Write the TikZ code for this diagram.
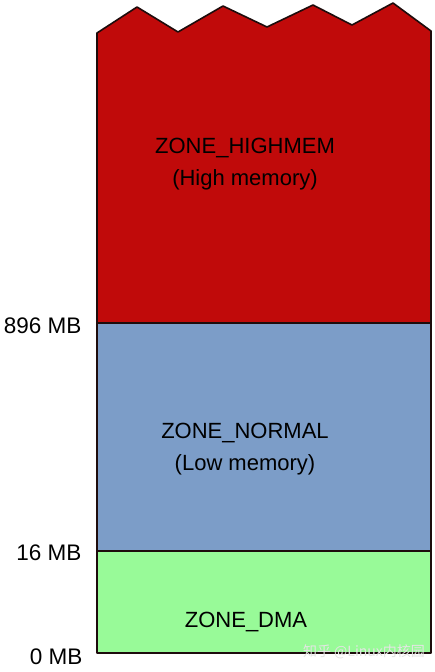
\documentclass[tikz,border=0pt]{standalone}
\usepackage{fontspec}
\setmainfont{Liberation Sans}
\newfontfamily\cjk{Noto Sans CJK SC}
\definecolor{highred}{RGB}{192,10,10}
\definecolor{normalblue}{RGB}{124,157,200}
\definecolor{dmagreen}{RGB}{152,250,152}
\definecolor{zoneline}{RGB}{30,12,12}

\begin{document}
\begin{tikzpicture}[x=1pt,y=-1pt,zone/.style = {draw=zoneline, line width=1.6pt, line join=round},
zonetext/.style = {align=center, font=\fontsize{22}{32}\selectfont},
mb/.style = {anchor=east, font=\fontsize{22.5}{26}\selectfont}]
\useasboundingbox[fill=white] (0,0) rectangle (434,672);
\draw[zone, fill=highred] (97,33) -- (137,7) -- (178,32) -- (223,6) -- (267,27) -- (313,5) -- (352,25) -- (393,3) -- (431,31) -- (431,323) -- (97,323) -- cycle;
\draw[zone, fill=normalblue] (97,323) rectangle (431,551);
\draw[zone, fill=dmagreen] (97,551) rectangle (431,653);
\node[zonetext] (highmem) at (245,164) {ZONE\_HIGHMEM\\(High memory)};
\node[zonetext] (normal) at (245,449) {ZONE\_NORMAL\\(Low memory)};
\node[zonetext] (dma) at (246,622) {ZONE\_DMA};
\node[mb] (mb896) at (85,326) {896 MB};
\node[mb] (mb16) at (85,553) {16 MB};
\node[mb] (mb0) at (86,657) {0 MB};
\node[text=white!80!gray, font=\cjk\fontsize{14}{16}\selectfont] (mark) at (364,652) {知乎 @Linux内核园};
\end{tikzpicture}
\end{document}
